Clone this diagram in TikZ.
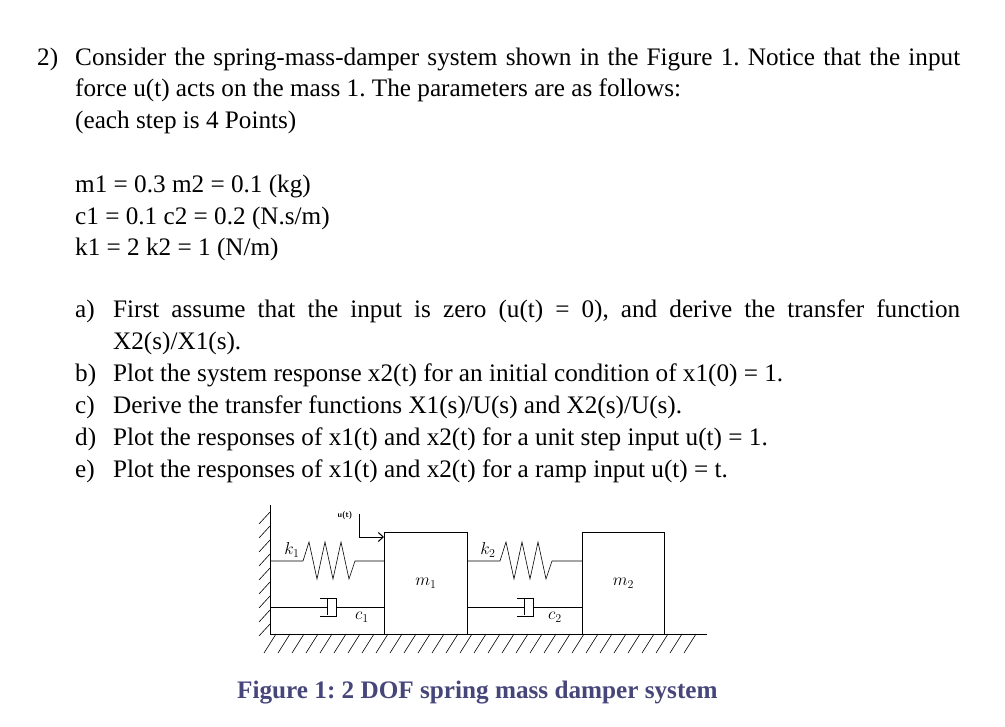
\documentclass[tikz,border=0pt]{standalone}
\usepackage{fontspec}
\setmainfont{Liberation Serif}
\usetikzlibrary{patterns,arrows.meta}
\begin{document}
\frenchspacing
\begin{tikzpicture}[x=1pt,y=-1pt,
  txt/.style={anchor=base west,inner sep=0pt,font=\fontsize{25.2}{29}\selectfont},
  mass/.style={draw,line width=0.8pt,anchor=north west,inner sep=0pt},
  ln/.style={line width=0.8pt}]
\useasboundingbox[fill=white] (0,0) rectangle (1005,727);
% text
\node[txt] (n2) at (37,66) {2)};
\node[txt] (l1) at (75,66) {\makebox[885pt][s]{Consider the spring-mass-damper system shown in the Figure 1. Notice that the input}};
\node[txt] (l2) at (75,97) {force u(t) acts on the mass 1. The parameters are as follows:};
\node[txt] (l3) at (75,129) {(each step is 4 Points)};
\node[txt] (p1) at (75,193) {m1 = 0.3 m2 = 0.1 (kg)};
\node[txt] (p2) at (75,225) {c1 = 0.1 c2 = 0.2 (N.s/m)};
\node[txt] (p3) at (75,256) {k1 = 2 k2 = 1 (N/m)};
\node[txt] (la) at (75,318) {a)};
\node[txt] (ta) at (113,318) {\makebox[847pt][s]{First assume that the input is zero (u(t) = 0), and derive the transfer function}};
\node[txt] (ta2) at (113,350) {X2(s)/X1(s).};
\node[txt] (lb) at (75,382) {b)};
\node[txt] (tb) at (113,382) {Plot the system response x2(t) for an initial condition of x1(0) = 1.};
\node[txt] (lc) at (75,414) {c)};
\node[txt] (tc) at (113,414) {Derive the transfer functions X1(s)/U(s) and X2(s)/U(s).};
\node[txt] (ld) at (75,446) {d)};
\node[txt] (td) at (113,446) {Plot the responses of x1(t) and x2(t) for a unit step input u(t) = 1.};
\node[txt] (le) at (75,478) {e)};
\node[txt] (te) at (113,478) {Plot the responses of x1(t) and x2(t) for a ramp input u(t) = t.};
\node[txt,font=\fontsize{25.2}{29}\selectfont\bfseries,text=black!55!blue!45!gray] (cap) at (237,698) {Figure 1: 2 DOF spring mass damper system};
% figure: wall and floor
\draw[ln] (270,505) -- (270,634) -- (707,634);
\foreach \y in {512,526,...,628} \draw[line width=0.6pt] (270,\y) -- (259,\y+12);
\foreach \x in {276,290,...,700} \draw[line width=0.6pt] (\x,634) -- (\x-12,653);
% masses
\node[mass,minimum width=83pt,minimum height=102pt] (m1) at (384,532) {};
\node[mass,minimum width=82pt,minimum height=102pt] (m2) at (582,532) {};
\node[font=\fontsize{18}{20}\selectfont] at (m1.center) {$m_1$};
\node[font=\fontsize{18}{20}\selectfont] at (m2.center) {$m_2$};
% springs
\draw[line width=0.6pt] (270,561) -- (303,561) -- (309,542) -- (317,579) -- (325,542) -- (333,579) -- (341,542) -- (349,579) -- (355,561) -- (384,561);
\draw[line width=0.6pt] (467,561) -- (500,561) -- (506,542) -- (514,579) -- (522,542) -- (530,579) -- (538,542) -- (546,579) -- (552,561) -- (582,561);
% dampers
\draw[line width=0.6pt] (270,607) -- (327,607) (327,599) -- (327,615) (320,598) -- (336,598) -- (336,616) -- (320,616) (336,607) -- (384,607);
\draw[line width=0.6pt] (467,607) -- (524,607) (524,599) -- (524,615) (517,598) -- (533,598) -- (533,616) -- (517,616) (533,607) -- (582,607);
% labels
\node[font=\fontsize{18}{20}\selectfont] at (292,550) {$k_1$};
\node[font=\fontsize{18}{20}\selectfont] at (488,550) {$k_2$};
\node[font=\fontsize{18}{20}\selectfont] at (362,617) {$c_1$};
\node[font=\fontsize{18}{20}\selectfont] at (555,617) {$c_2$};
\node[font=\sffamily\bfseries\fontsize{8}{9}\selectfont] at (345,515) {u(t)};
\draw[line width=1pt,-{Straight Barb[length=5pt,width=9pt]}] (359,514) -- (359,537) -- (384,537);
\end{tikzpicture}
\end{document}
